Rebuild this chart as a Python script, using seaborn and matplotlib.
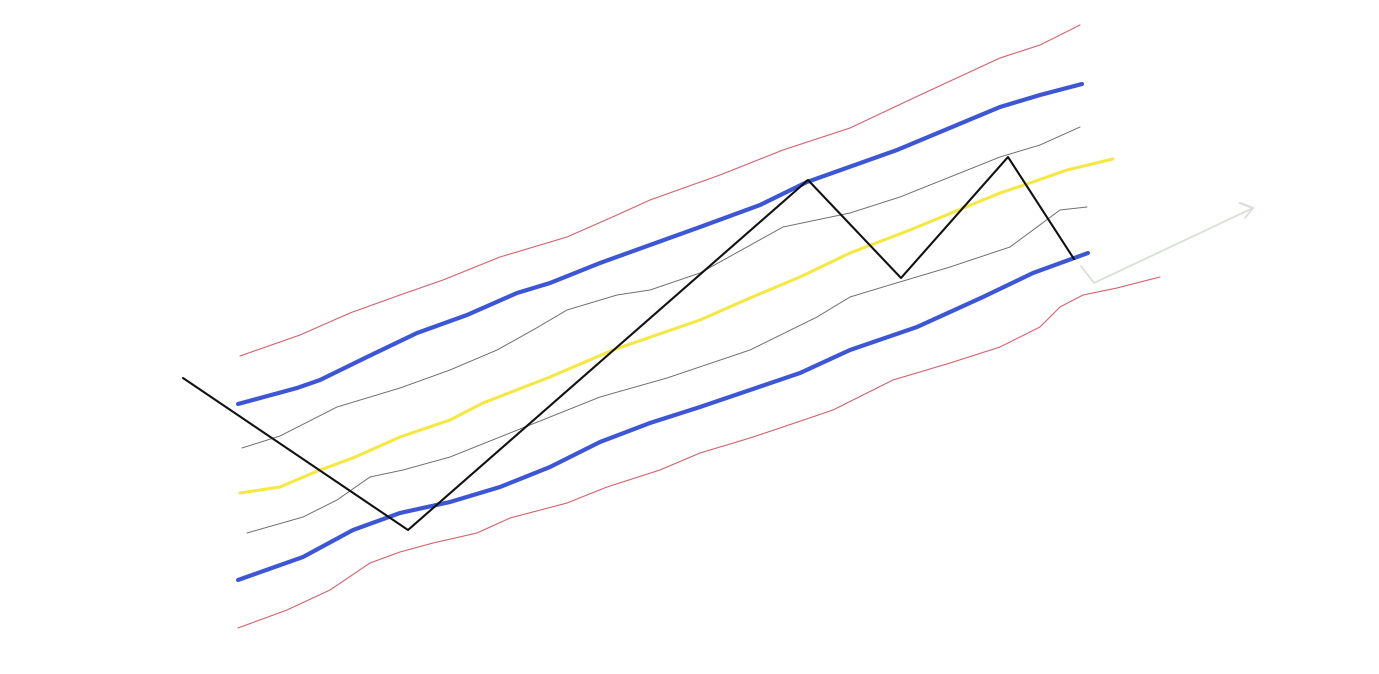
import matplotlib
matplotlib.use('Agg')
import matplotlib.pyplot as plt
import seaborn as sns
import pandas as pd

# hand-drawn channel sketch, coordinates read in picture pixels (y grows downward)
red_top_x = [240, 300, 350, 400, 443, 500, 567, 617, 650, 720, 783, 850, 920, 1000, 1040, 1080]
red_top_y = [356, 335, 313, 295, 280, 257, 237, 215, 200, 175, 150, 128, 95, 58, 45, 25]

blue_top_x = [238, 297, 320, 367, 417, 467, 517, 550, 600, 650, 700, 760, 807, 897, 1000, 1040, 1082]
blue_top_y = [404, 388, 380, 357, 333, 315, 293, 283, 263, 245, 227, 205, 182, 150, 107, 95, 84]

gray_top_x = [242, 280, 337, 400, 450, 497, 533, 567, 617, 650, 700, 783, 850, 900, 1000, 1040, 1080]
gray_top_y = [448, 436, 407, 388, 370, 350, 330, 310, 295, 290, 273, 227, 213, 197, 157, 145, 127]

yellow_x = [240, 280, 320, 353, 400, 450, 483, 550, 613, 700, 750, 800, 850, 910, 1000, 1030, 1067, 1113]
yellow_y = [493, 487, 470, 458, 437, 420, 403, 377, 350, 320, 298, 277, 253, 230, 193, 183, 170, 159]

gray_low_x = [247, 303, 337, 370, 403, 450, 500, 550, 600, 667, 750, 817, 850, 883, 950, 1010, 1033, 1060, 1087]
gray_low_y = [533, 517, 500, 477, 470, 457, 437, 417, 397, 378, 350, 317, 297, 287, 267, 247, 230, 210, 207]

blue_low_x = [238, 303, 353, 400, 450, 500, 550, 600, 650, 700, 750, 800, 850, 917, 983, 1033, 1088]
blue_low_y = [580, 557, 530, 513, 502, 487, 467, 442, 423, 407, 390, 373, 350, 327, 297, 273, 253]

red_low_x = [238, 287, 330, 370, 400, 433, 477, 510, 567, 607, 660, 700, 750, 777, 833, 893,
             950, 1000, 1040, 1060, 1083, 1117, 1160]
red_low_y = [628, 610, 590, 563, 552, 543, 533, 518, 503, 487, 470, 453, 438, 429, 410, 380,
             363, 347, 327, 307, 295, 288, 277]

price_x = [183, 408, 808, 901, 1008, 1074]
price_y = [378, 530, 180, 278, 157, 259]

arrow_x = [1081, 1094, 1253, 1240, 1253, 1245]
arrow_y = [266, 283, 208, 203, 208, 218]

series = [
    (red_top_x, red_top_y, '#d3646e', 0.8),
    (blue_top_x, blue_top_y, '#3c56d4', 3.0),
    (gray_top_x, gray_top_y, '#6e6e6e', 0.7),
    (yellow_x, yellow_y, '#f6e844', 2.2),
    (gray_low_x, gray_low_y, '#6e6e6e', 0.7),
    (blue_low_x, blue_low_y, '#3c56d4', 3.0),
    (red_low_x, red_low_y, '#d3646e', 0.8),
    (price_x, price_y, '#111111', 1.5),
    (arrow_x, arrow_y, '#d9e0d8', 1.3),
]

fig = plt.figure(figsize=(13.79, 6.74), dpi=100)
ax = fig.add_axes([0, 0, 1, 1])

for xs, ys, color, lw in series:
    df = pd.DataFrame({'x': xs, 'y': ys})
    sns.lineplot(data=df, x='x', y='y', sort=False, estimator=None,
                 color=color, linewidth=lw, ax=ax,
                 solid_capstyle='round', solid_joinstyle='round')

ax.set_xlim(0, 1379)
ax.set_ylim(674, 0)
ax.axis('off')

plt.savefig('out.png', dpi=100)
plt.close()
